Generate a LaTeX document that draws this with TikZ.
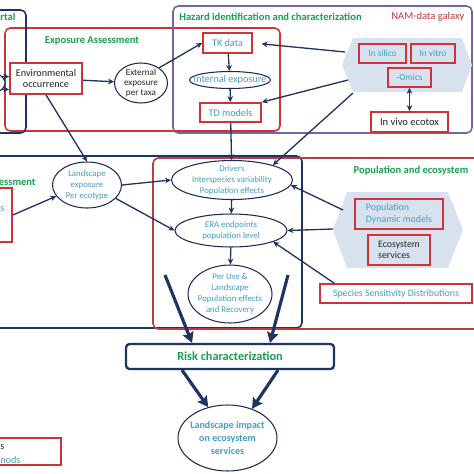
\documentclass[tikz,border=0pt]{standalone}
\usepackage{fontspec}
\setmainfont{Carlito}
\usetikzlibrary{shapes.geometric,arrows.meta}

\definecolor{navy}{RGB}{32,52,98}
\definecolor{boxred}{RGB}{204,52,56}
\definecolor{framered}{RGB}{188,60,70}
\definecolor{titlegreen}{RGB}{24,160,80}
\definecolor{txtblue}{RGB}{66,158,196}
\definecolor{framepurple}{RGB}{120,100,158}
\definecolor{galaxy}{RGB}{216,226,238}
\definecolor{darktxt}{RGB}{35,35,35}

\newcommand\boxfont{\fontsize{5.8}{6.8}\selectfont}
\newcommand\smallfont{\fontsize{5.3}{6.2}\selectfont}
\newcommand\ovalfont{\fontsize{5}{6.2}\selectfont}
\newcommand\titlefont{\fontsize{6}{7}\selectfont\bfseries}

\tikzset{
    redbox/.style={draw=boxred, line width=1pt, fill=white, inner sep=1pt, align=center, font=\boxfont},
    oval/.style={ellipse, draw=navy!85!black, line width=0.6pt, fill=white, inner sep=-30pt, align=center, text=txtblue, font=\ovalfont},
    arr/.style={draw=navy, line width=0.75pt, -{Stealth[length=3.4pt,width=3.2pt]}},
    bigarr/.style={draw=navy, line width=1.8pt, -{Stealth[length=6pt,width=6.5pt,inset=1pt]}},
    frame/.style={rounded corners=3pt, line width=0.9pt},
    title/.style={font=\titlefont, text=titlegreen, inner sep=0pt},
    frag/.style={font=\boxfont, inner sep=0pt, anchor=west}
}

\begin{document}
\begin{tikzpicture}[x=0.02cm, y=-0.02cm]
    \useasboundingbox (0,0) rectangle (474,474);
    \clip (0,0) rectangle (474,474);

    \draw[frame, draw=boxred] (5,28) rectangle (280,131);
    \draw[frame, draw=framepurple] (173,6) rectangle (472,133);
    \draw[frame, draw=navy] (-30,10) rectangle (26,133);
    \draw[frame, draw=navy] (-30,156) rectangle (302,328);
    \draw[frame, draw=framered] (153,158) rectangle (500,329);

    \fill[galaxy] (342,65) -- (353,38) -- (462,38) -- (472,65) -- (462,92) -- (353,92) -- cycle;
    \fill[galaxy] (333,230) -- (347,192) -- (448,192) -- (463,230) -- (448,268) -- (347,268) -- cycle;
    \coordinate (namA) at (345,52);
    \coordinate (namB) at (348,80);
    \coordinate (namC) at (353,93);
    \coordinate (popA) at (343,210);
    \coordinate (popB) at (333,229);
    \coordinate (bigA) at (165,275);
    \coordinate (bigB) at (288,275);

    \node[title, anchor=west] (portalT) at (0,17) {rtal};
    \node[title] (expoT) at (92,41) {Exposure Assessment};
    \node[title, anchor=west] (hazT) at (179,17) {Hazard identification and characterization};
    \node[font=\fontsize{6}{7}\selectfont, text=boxred, anchor=west, inner sep=0pt] (namT) at (391,17) {NAM-data galaxy};
    \node[title, anchor=east] (assessT) at (36,182) {essment};
    \node[title] (popT) at (411,171) {Population and ecosystem};

    \node[oval, minimum width=1cm, minimum height=0.52cm] (src) at (-20,83) {};
    \node[redbox, minimum width=1.44cm, minimum height=0.62cm, text=darktxt] (env) at (46,78.5) {Environmental\\occurrence};
    \node[oval, minimum width=1.06cm, minimum height=0.8cm, text=darktxt, font=\fontsize{5.2}{5.8}\selectfont] (extexp) at (141,83) {External\\exposure\\per taxa};
    \node[redbox, minimum width=0.98cm, minimum height=0.4cm, text=txtblue] (tk) at (227.5,43) {TK data};
    \node[oval, minimum width=1.62cm, minimum height=0.34cm, font=\boxfont] (intexp) at (230,80) {Internal exposure};
    \node[redbox, minimum width=1.22cm, minimum height=0.38cm, text=txtblue] (td) at (230.5,112.5) {TD models};
    \node[redbox, fill=galaxy, minimum width=0.94cm, minimum height=0.38cm, text=txtblue, font=\smallfont] (silico) at (382.5,53.5) {In silico};
    \node[redbox, fill=galaxy, minimum width=0.88cm, minimum height=0.38cm, text=txtblue, font=\smallfont] (vitro) at (433,53.5) {In vitro};
    \node[redbox, fill=galaxy, minimum width=0.86cm, minimum height=0.38cm, text=txtblue, font=\smallfont] (omics) at (409.5,77.5) {-Omics};
    \node[redbox, minimum width=1.54cm, minimum height=0.4cm, text=darktxt, font=\fontsize{6}{7}\selectfont] (invivo) at (409.5,122) {In vivo ecotox};

    \node[redbox, minimum width=0.84cm, minimum height=1.08cm] (leftbox) at (-9,215) {};
    \node[frag, text=txtblue] (leftT) at (0,209) {s};
    \node[oval, minimum width=1.38cm, minimum height=0.92cm] (landexp) at (87,185) {Landscape\\exposure\\Per ecotype};
    \node[oval, minimum width=2.42cm, minimum height=0.78cm] (drivers) at (232,180) {Drivers\\Interspecies variability\\Population effects};
    \node[oval, minimum width=2.24cm, minimum height=0.66cm] (era) at (231,230.5) {ERA endpoints\\population level};
    \node[oval, minimum width=1.68cm, minimum height=1.16cm] (peruse) at (230,294) {Per Use \&\\Landscape\\Population effects\\and Recovery};
    \node[redbox, fill=galaxy, minimum width=1.76cm, minimum height=0.6cm, text=txtblue, align=left, font=\fontsize{5.6}{6.5}\selectfont] (popdyn) at (399,214) {Population\\Dynamic models};
    \node[redbox, fill=galaxy, minimum width=1.24cm, minimum height=0.6cm, text=darktxt, align=left, font=\fontsize{5.6}{6.6}\selectfont] (ecoserv) at (399,250) {Ecosystem\\services};
    \node[redbox, minimum width=3.04cm, minimum height=0.38cm, text=txtblue, font=\fontsize{5.6}{6.5}\selectfont] (ssd) at (396,293.5) {Species Sensitivity Distributions};

    \node[draw=navy, line width=1.3pt, rounded corners=2pt, fill=white, minimum width=4.16cm, minimum height=0.5cm, text=titlegreen, font=\fontsize{7}{8}\selectfont\bfseries] (risk) at (230,356.5) {Risk characterization};
    \node[oval, minimum width=1.98cm, minimum height=1.32cm, font=\fontsize{5.7}{7.2}\selectfont\bfseries] (impact) at (227.5,438) {Landscape impact\\on ecosystem\\services};
    \node[redbox, minimum width=1.82cm, minimum height=0.54cm] (botbox) at (15.5,451.5) {};
    \node[frag, text=darktxt] (botT) at (0,447) {s};
    \node[frag, text=txtblue] (botU) at (0,460) {nods};

    \draw[arr] (src.16) -- (src.16 -| env.west);
    \draw[arr] (src.-16) -- (src.-16 -| env.west);
    \draw[arr] (env) -- (extexp);
    \draw[arr] (extexp.40) -- (tk.west);
    \draw[arr] (tk) -- (intexp);
    \draw[arr] (intexp) -- (td);
    \draw[arr, shorten >=5pt] (namA) -- (tk.east);
    \draw[arr] (namB) -- (td.north east);
    \draw[draw=navy, line width=0.75pt, {Stealth[length=3.4pt,width=3.2pt]}-{Stealth[length=3.4pt,width=3.2pt]}] (omics) -- (invivo);
    \draw[arr] (namC) -- (drivers.20);
    \draw[arr] (td) -- (drivers);
    \draw[arr] (env.south) -- (landexp.north);
    \draw[arr] (leftbox.east) -- (landexp.200);
    \draw[arr] (landexp.east) -- (drivers.west);
    \draw[arr] (landexp.-25) -- (era.west);
    \draw[arr] (drivers) -- (era);
    \draw[arr] (era) -- (peruse);
    \draw[arr] (popA) -- (drivers.-5);
    \draw[arr] (popB) -- (era.east);
    \draw[arr] ([xshift=0.3cm]ssd.north west) -- (era.-15);
    \draw[bigarr] (bigA) -- ([xshift=-0.76cm]risk.north);
    \draw[bigarr] (bigB) -- ([xshift=0.8cm]risk.north);
    \draw[bigarr] ([xshift=-0.96cm]risk.south) -- (impact.122);
    \draw[bigarr] ([xshift=0.96cm]risk.south) -- (impact.50);
\end{tikzpicture}
\end{document}
